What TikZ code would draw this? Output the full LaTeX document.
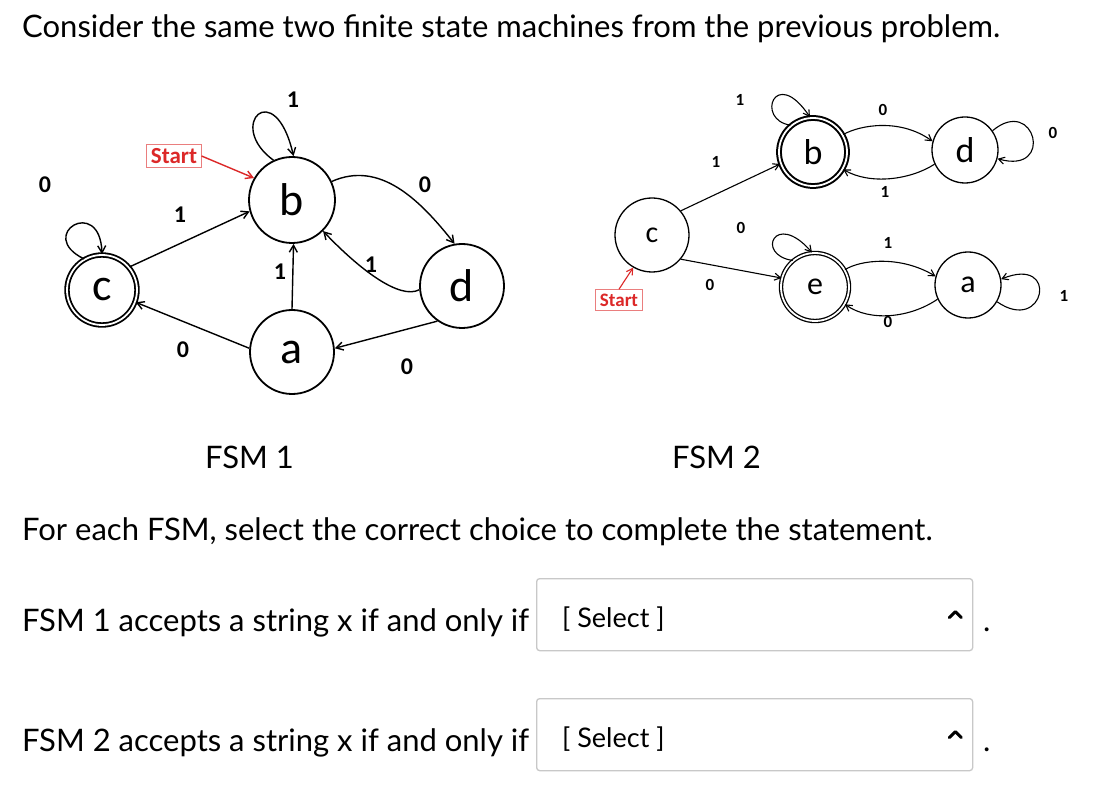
\documentclass[tikz,border=0pt]{standalone}
\usepackage{fontspec}
\setmainfont{Lato}
\newfontfamily\calfnt{Carlito}
\usetikzlibrary{arrows.meta}
\definecolor{startred}{RGB}{220,40,40}
\definecolor{boxgray}{RGB}{200,200,200}
\begin{document}
\begin{tikzpicture}[x=1pt,y=-1pt,
  st/.style={circle,draw,line width=1.8pt,font=\calfnt\fontsize{46}{46}\selectfont,inner sep=0},
  acc/.style={st,double,double distance=1.8pt},
  lab/.style={font=\calfnt\bfseries\fontsize{24}{24}\selectfont},
  lab2/.style={font=\calfnt\bfseries\fontsize{17}{17}\selectfont},
  tr/.style={-{Straight Barb[length=7pt,width=8pt]},line width=1.4pt},
  tr2/.style={-{Straight Barb[length=6pt,width=7pt]},line width=1.1pt},
  sbox/.style={draw=startred!60,line width=1pt,text=startred,font=\calfnt\bfseries\fontsize{23}{23}\selectfont,inner sep=4pt},
  txt/.style={anchor=base west,font=\fontsize{31}{31}\selectfont,inner sep=0},
  sel/.style={draw=boxgray,line width=1.3pt,rounded corners=3pt,minimum width=436pt,minimum height=72pt,anchor=north west},
  chev/.style={line width=3pt,line cap=round,line join=round}]
\useasboundingbox (0,0) rectangle (1114,810);
\fill[white] (0,0) rectangle (1114,810);
\node[txt] (title) at (22,38) {Consider the same two finite state machines from the previous problem.};
% FSM 1
\node[acc,minimum size=70pt] (c1) at (102,290) {c};
\node[st,minimum size=86pt] (b1) at (292,200) {b};
\node[st,minimum size=84pt] (d1) at (462,286) {d};
\node[st,minimum size=84pt] (a1) at (292,352) {a};
\node[sbox] (s1) at (174,156) {Start};
\draw[tr,startred] (s1.east) -- (b1.150);
\draw[tr] (b1.115) .. controls (225,125) and (275,75) .. (b1.88);
\node[lab] (lb1) at (293,100) {1};
\draw[tr] (c1.120) .. controls (35,235) and (100,195) .. (c1.90);
\node[lab] (lc1) at (45,185) {0};
\draw[tr] (c1.40) -- (b1.195);
\node[lab] (l1) at (180,215) {1};
\draw[tr] (b1.25) .. controls (380,160) and (420,200) .. (d1.100);
\node[lab] (l2) at (425,185) {0};
\draw[tr] (d1.185) .. controls (400,300) and (360,270) .. (b1.315);
\node[lab] (l3) at (371,265) {1};
\draw[tr] (a1.90) -- (b1.272);
\node[lab] (l4) at (280,272) {1};
\draw[tr] (a1.175) -- (c1.340);
\node[lab] (l5) at (183,350) {0};
\draw[tr] (d1.235) -- (a1.5);
\node[lab] (l6) at (407,367) {0};
% FSM 2
\node[st,minimum size=74pt,font=\calfnt\fontsize{30}{30}\selectfont,line width=1.3pt] (c2) at (652,235) {c};
\node[acc,minimum size=68pt,font=\calfnt\fontsize{36}{36}\selectfont,line width=2pt] (b2) at (813,152) {b};
\node[st,minimum size=66pt,font=\calfnt\fontsize{36}{36}\selectfont,line width=1.3pt] (d2) at (965,150) {d};
\node[acc,minimum size=68pt,font=\calfnt\fontsize{32}{32}\selectfont,line width=1.3pt] (e2) at (815,287) {e};
\node[st,minimum size=66pt,font=\calfnt\fontsize{32}{32}\selectfont,line width=1.3pt] (a2) at (968,285) {a};
\node[sbox,font=\calfnt\bfseries\fontsize{19}{19}\selectfont] (s2) at (619,300) {Start};
\draw[tr2,startred] (s2.north) -- (c2.240);
\draw[tr2] (b2.130) .. controls (755,120) and (775,65) .. (b2.95);
\node[lab2] (lb2) at (740,100) {1};
\draw[tr2] (c2.40) -- (b2.200);
\node[lab2] (m1) at (716,162) {1};
\draw[tr2] (b2.30) .. controls (860,125) and (900,118) .. (d2.165);
\node[lab2] (m2) at (883,110) {0};
\draw[tr2] (d2.205) .. controls (910,180) and (870,185) .. (b2.330);
\node[lab2] (m3) at (885,192) {1};
\draw[tr2] (d2.35) .. controls (1035,95) and (1055,175) .. (d2.345);
\node[lab2] (m4) at (1053,133) {0};
\draw[tr2] (e2.130) .. controls (755,255) and (775,210) .. (e2.95);
\node[lab2] (le2) at (741,228) {0};
\draw[tr2] (c2.320) -- (e2.165);
\node[lab2] (m5) at (710,285) {0};
\draw[tr2] (e2.30) .. controls (860,260) and (900,255) .. (a2.165);
\node[lab2] (m6) at (888,243) {1};
\draw[tr2] (a2.205) .. controls (910,318) and (870,322) .. (e2.330);
\node[lab2] (m7) at (888,322) {0};
\draw[tr2] (a2.330) .. controls (1045,335) and (1060,255) .. (a2.10);
\node[lab2] (m8) at (1064,296) {1};
\node[txt] (f1) at (205,468) {FSM 1};
\node[txt] (f2) at (672,468) {FSM 2};
\node[txt] (q) at (22,540) {For each FSM, select the correct choice to complete the statement.};
\node[txt] (q1) at (22,631) {FSM 1 accepts a string x if and only if};
\node[sel] (sel1) at (536,578) {};
\node[txt,font=\fontsize{27}{27}\selectfont] (t1) at (562,627) {[ Select ]};
\draw[chev] ([xshift=-24pt,yshift=-3pt]sel1.east) -- ([xshift=-18pt,yshift=3pt]sel1.east) -- ([xshift=-12pt,yshift=-3pt]sel1.east);
\node[txt] (p1) at (983,631) {.};
\node[txt] (q2) at (22,751) {FSM 2 accepts a string x if and only if};
\node[sel] (sel2) at (536,698) {};
\node[txt,font=\fontsize{27}{27}\selectfont] (t2) at (562,747) {[ Select ]};
\draw[chev] ([xshift=-24pt,yshift=-3pt]sel2.east) -- ([xshift=-18pt,yshift=3pt]sel2.east) -- ([xshift=-12pt,yshift=-3pt]sel2.east);
\node[txt] (p2) at (983,751) {.};
\end{tikzpicture}
\end{document}
